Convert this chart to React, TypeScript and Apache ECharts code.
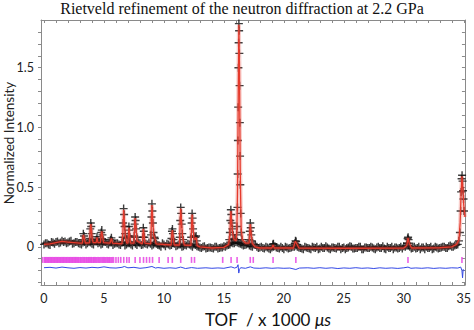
import React, { useEffect, useRef } from "react";
import * as echarts from "echarts";

// Observed background points [TOF (x1000 us), normalized intensity]
const obsBackground: number[][] = [
  [0, 0.02], [0.25, 0.03], [0.5, 0.015], [0.75, 0.035], [1, 0.04], [1.25, 0.03], [1.5, 0.05], [1.75, 0.045], [2, 0.035], [2.25, 0.05], [2.5, 0.03], [2.75, 0.04], [3, 0.025],
  [3.25, 0.035], [3.5, 0.02], [3.75, 0.04], [4, 0.025], [4.25, 0.045], [4.5, 0.03], [4.75, 0.02], [5, 0.04], [5.25, 0.025], [5.5, 0.035], [5.75, 0.015], [6, 0.03],
  [6.25, 0.02], [6.5, 0.035], [6.75, 0.01], [7, 0.03], [7.25, 0.02], [7.5, 0.04], [7.75, 0.015], [8, 0.03], [8.25, 0.02], [8.5, 0.025], [8.75, 0.035], [9, 0.01],
  [9.25, 0.03], [9.5, 0.015], [9.75, 0.0], [10, 0.02], [10.25, 0.025], [10.5, 0.01], [10.75, 0.03], [11, 0.005], [11.25, 0.02], [11.5, 0.0], [11.75, 0.015], [12, 0.025],
  [12.25, 0.01], [12.5, 0.02], [12.75, 0.005], [13, -0.005], [13.25, 0.0], [13.5, -0.015], [13.75, -0.005], [14, -0.01], [14.25, 0.0], [14.5, -0.015], [14.75, -0.005], [15, 0.005],
  [15.25, 0.01], [15.5, 0.02], [15.75, 0.03], [16, 0.04], [16.25, 0.03], [16.5, 0.02], [16.75, 0.015], [17, 0.025], [17.25, 0.005], [17.5, 0.02], [17.75, 0.0], [18, -0.005],
  [18.25, -0.01], [18.5, 0.0], [18.75, -0.015], [19, -0.005], [19.25, 0.005], [19.5, -0.01], [19.75, 0.0], [20, -0.02], [20.25, -0.005], [20.5, -0.01], [20.75, 0.0], [21, 0.01],
  [21.25, -0.005], [21.5, -0.015], [21.75, 0.0], [22, -0.01], [22.25, -0.02], [22.5, -0.005], [22.75, 0.0], [23, -0.015], [23.25, -0.01], [23.5, 0.005], [23.75, -0.015], [24, -0.005],
  [24.25, -0.01], [24.5, 0.0], [24.75, -0.02], [25, -0.005], [25.25, -0.01], [25.5, 0.005], [25.75, -0.015], [26, -0.01], [26.25, 0.0], [26.5, -0.02], [26.75, -0.005], [27, -0.01],
  [27.25, 0.0], [27.5, -0.015], [27.75, -0.005], [28, -0.01], [28.25, 0.005], [28.5, -0.02], [28.75, -0.01], [29, 0.0], [29.25, -0.005], [29.5, -0.015], [29.75, 0.0], [30, 0.005],
  [30.25, 0.01], [30.5, 0.0], [30.75, -0.01], [31, -0.015], [31.25, 0.0], [31.5, -0.005], [31.75, -0.02], [32, -0.01], [32.25, 0.0], [32.5, -0.015], [32.75, -0.005], [33, -0.01],
  [33.25, 0.0], [33.5, -0.01], [33.75, 0.005], [34, 0.0], [34.25, 0.01], [34.5, 0.02],
];

// Interleaved background points between the ones above
const obsBackgroundMid: number[][] = [
  [0.125, 0.03], [0.375, 0.02], [0.625, 0.04], [0.875, 0.025], [1.125, 0.045], [1.375, 0.035], [1.625, 0.04], [1.875, 0.03], [2.125, 0.045], [2.375, 0.025], [2.625, 0.04], [2.875, 0.03],
  [3.125, 0.02], [3.375, 0.04], [3.625, 0.03], [3.875, 0.035], [4.125, 0.02], [4.375, 0.045], [4.625, 0.035], [4.875, 0.025], [5.125, 0.04], [5.375, 0.02], [5.625, 0.035], [5.875, 0.025],
  [6.125, 0.03], [6.375, 0.015], [6.625, 0.04], [6.875, 0.02], [7.125, 0.03], [7.375, 0.01], [7.625, 0.025], [7.875, 0.035], [8.125, 0.015], [8.375, 0.03], [8.625, 0.02], [8.875, 0.025],
  [9.125, 0.02], [9.375, 0.025], [9.625, 0.01], [9.875, 0.03], [10.125, 0.005], [10.375, 0.02], [10.625, 0.015], [10.875, 0.025], [11.125, 0.01], [11.375, 0.02], [11.625, 0.005], [11.875, 0.01],
  [12.125, 0.02], [12.375, 0.0], [12.625, 0.015], [12.875, 0.0], [13.125, -0.01], [13.375, 0.005], [13.625, -0.01], [13.875, -0.005], [14.125, -0.015], [14.375, 0.0], [14.625, -0.01], [14.875, -0.005],
  [15.125, 0.0], [15.375, 0.015], [15.625, 0.035], [15.875, 0.03], [16.125, 0.035], [16.375, 0.025], [16.625, 0.01], [16.875, 0.02], [17.125, 0.01], [17.375, 0.0], [17.625, 0.015], [17.875, -0.01],
  [18.125, 0.0], [18.375, -0.015], [18.625, -0.005], [18.875, -0.02], [19.125, 0.0], [19.375, -0.005], [19.625, -0.015], [19.875, -0.01], [20.125, 0.0], [20.375, -0.015], [20.625, -0.005], [20.875, 0.0],
  [21.125, 0.0], [21.375, -0.01], [21.625, -0.02], [21.875, -0.005], [22.125, -0.015], [22.375, 0.0], [22.625, -0.01], [22.875, -0.02], [23.125, 0.0], [23.375, -0.01], [23.625, -0.005], [23.875, -0.02],
  [24.125, -0.005], [24.375, -0.015], [24.625, 0.0], [24.875, -0.01], [25.125, -0.02], [25.375, -0.005], [25.625, 0.0], [25.875, -0.015], [26.125, -0.01], [26.375, 0.0], [26.625, -0.02], [26.875, -0.005],
  [27.125, -0.01], [27.375, -0.005], [27.625, -0.02], [27.875, 0.0], [28.125, -0.01], [28.375, -0.015], [28.625, 0.0], [28.875, -0.01], [29.125, -0.02], [29.375, -0.005], [29.625, -0.01], [29.875, -0.015],
  [30.125, 0.0], [30.375, 0.01], [30.625, -0.015], [30.875, 0.0], [31.125, -0.01], [31.375, -0.02], [31.625, -0.005], [31.875, 0.0], [32.125, -0.01], [32.375, -0.02], [32.625, 0.0], [32.875, -0.015],
  [33.125, -0.005], [33.375, 0.0], [33.625, -0.01], [33.875, 0.01], [34.125, 0.0], [34.375, 0.015],
];

// Observed points across the Bragg peaks
const obsPeaks: number[][] = [
  [3.22, 0.06], [3.28, 0.11], [3.34, 0.09], [3.4, 0.05],
  [3.82, 0.07], [3.86, 0.15], [3.9, 0.2], [3.94, 0.17], [3.98, 0.11], [4.04, 0.06],
  [4.36, 0.06], [4.42, 0.085], [4.48, 0.055],
  [4.72, 0.07], [4.77, 0.12], [4.82, 0.14], [4.87, 0.1], [4.93, 0.06],
  [5.55, 0.06], [5.62, 0.075], [5.68, 0.05],
  [6.56, 0.08], [6.6, 0.2], [6.64, 0.32], [6.68, 0.27], [6.72, 0.17], [6.77, 0.11], [6.83, 0.07],
  [7.04, 0.09], [7.08, 0.17], [7.12, 0.14], [7.17, 0.08],
  [7.52, 0.09], [7.56, 0.19], [7.6, 0.25], [7.64, 0.22], [7.68, 0.15], [7.74, 0.08],
  [8.24, 0.08], [8.28, 0.16], [8.32, 0.13], [8.37, 0.08],
  [8.92, 0.1], [8.96, 0.25], [9.0, 0.36], [9.04, 0.3], [9.08, 0.2], [9.13, 0.12], [9.2, 0.08], [9.25, 0.07],
  [10.63, 0.07], [10.67, 0.13], [10.71, 0.15], [10.75, 0.11], [10.8, 0.06],
  [11.32, 0.08], [11.36, 0.22], [11.4, 0.33], [11.44, 0.28], [11.48, 0.19], [11.53, 0.11], [11.6, 0.06],
  [12.27, 0.08], [12.31, 0.2], [12.35, 0.28], [12.39, 0.24], [12.43, 0.15], [12.5, 0.09], [12.62, 0.08], [12.68, 0.09], [12.74, 0.05],
  [15.45, 0.06], [15.5, 0.12], [15.54, 0.22], [15.58, 0.31], [15.62, 0.27], [15.66, 0.2], [15.7, 0.15], [15.76, 0.1], [15.85, 0.07], [15.95, 0.06],
  [16.06, 0.1], [16.1, 0.17], [16.13, 0.33], [16.15, 0.61], [16.17, 0.89], [16.19, 1.17], [16.21, 1.5], [16.23, 1.71], [16.25, 1.87],
  [16.27, 1.81], [16.29, 1.62], [16.31, 1.35], [16.33, 1.04], [16.35, 0.76], [16.37, 0.52], [16.4, 0.28], [16.44, 0.12], [16.5, 0.06],
  [17.12, 0.06], [17.16, 0.13], [17.2, 0.2], [17.24, 0.16], [17.28, 0.1], [17.34, 0.05],
  [19.08, 0.02], [19.13, 0.025],
  [20.92, 0.03], [20.97, 0.05], [21.02, 0.045], [21.08, 0.02],
  [30.27, 0.03], [30.32, 0.07], [30.36, 0.08], [30.4, 0.06], [30.46, 0.03],
  [34.6, 0.05], [34.68, 0.12], [34.74, 0.3], [34.78, 0.46], [34.82, 0.57], [34.86, 0.6], [34.9, 0.55], [34.94, 0.47], [34.98, 0.4], [35.02, 0.3],
];

// Calculated profile
const calcProfile: number[][] = [
  [0, 0.02], [0.5, 0.025], [1, 0.035], [1.5, 0.045], [2, 0.04], [2.5, 0.035], [3, 0.03], [3.2, 0.03], [3.28, 0.1], [3.36, 0.07], [3.45, 0.032],
  [3.8, 0.033], [3.86, 0.14], [3.9, 0.19], [3.95, 0.15], [4.0, 0.08], [4.1, 0.035], [4.35, 0.035], [4.42, 0.08], [4.5, 0.035],
  [4.7, 0.035], [4.77, 0.11], [4.82, 0.13], [4.88, 0.09], [4.96, 0.035], [5.5, 0.03], [5.62, 0.07], [5.72, 0.03],
  [6.5, 0.025], [6.58, 0.12], [6.64, 0.31], [6.7, 0.22], [6.78, 0.09], [6.9, 0.03], [7.0, 0.03], [7.08, 0.16], [7.14, 0.1], [7.22, 0.03],
  [7.5, 0.03], [7.56, 0.18], [7.6, 0.24], [7.66, 0.17], [7.75, 0.05], [8.2, 0.025], [8.28, 0.15], [8.34, 0.1], [8.42, 0.03],
  [8.9, 0.025], [8.96, 0.24], [9.0, 0.35], [9.06, 0.24], [9.14, 0.1], [9.25, 0.07], [9.35, 0.025],
  [10.6, 0.015], [10.67, 0.12], [10.71, 0.14], [10.77, 0.08], [10.86, 0.015], [11.3, 0.015], [11.36, 0.21], [11.4, 0.32], [11.46, 0.22], [11.55, 0.08], [11.7, 0.015],
  [12.25, 0.012], [12.31, 0.19], [12.35, 0.27], [12.41, 0.18], [12.5, 0.07], [12.6, 0.06], [12.68, 0.08], [12.78, 0.01],
  [13, 0.0], [14, -0.01], [15, -0.005], [15.4, 0.02], [15.5, 0.1], [15.58, 0.3], [15.64, 0.22], [15.72, 0.12], [15.85, 0.06],
  [16.0, 0.05], [16.08, 0.12], [16.14, 0.5], [16.2, 1.3], [16.25, 1.86], [16.3, 1.5], [16.36, 0.65], [16.44, 0.15], [16.55, 0.06],
  [16.8, 0.03], [17.1, 0.03], [17.16, 0.12], [17.2, 0.19], [17.26, 0.12], [17.36, 0.03], [17.6, 0.0], [18, -0.01],
  [19.0, -0.01], [19.1, 0.015], [19.2, -0.01], [20.8, -0.01], [20.95, 0.045], [21.05, 0.03], [21.25, -0.01],
  [25, -0.012], [30, -0.01], [30.25, 0.01], [30.35, 0.075], [30.45, 0.03], [30.65, -0.01],
  [33, -0.008], [34, 0.0], [34.4, 0.02], [34.6, 0.06], [34.7, 0.2], [34.78, 0.45], [34.85, 0.59], [34.92, 0.5], [35.0, 0.35], [35.1, 0.25],
];

// Difference curve (observed - calculated), shifted below the pattern
const diffCurve: number[][] = [
  [0, -0.175], [0.5, -0.172], [1, -0.178], [1.5, -0.17], [2, -0.176], [2.5, -0.18], [3, -0.174], [3.5, -0.178], [4, -0.172], [4.5, -0.176],
  [5, -0.168], [5.5, -0.176], [6, -0.178], [6.5, -0.172], [6.7, -0.165], [7, -0.176], [7.5, -0.172], [8, -0.18], [8.5, -0.175], [9, -0.165],
  [9.3, -0.178], [9.5, -0.174], [10, -0.18], [10.5, -0.176], [11, -0.18], [11.4, -0.17], [11.8, -0.182], [12.3, -0.174], [12.8, -0.18],
  [13.5, -0.176], [14, -0.18], [14.5, -0.177], [15, -0.18], [15.6, -0.168], [15.9, -0.178], [16.1, -0.17], [16.18, -0.15], [16.24, -0.22],
  [16.3, -0.19], [16.4, -0.175], [16.8, -0.18], [17.2, -0.168], [17.5, -0.178], [18, -0.18], [18.5, -0.176], [19, -0.18], [19.5, -0.177],
  [20, -0.18], [20.5, -0.178], [21, -0.19], [21.3, -0.178], [22, -0.176], [22.5, -0.18], [23, -0.175], [23.5, -0.18], [24, -0.176],
  [24.5, -0.182], [25, -0.177], [25.5, -0.18], [26, -0.175], [26.5, -0.18], [27, -0.177], [27.5, -0.182], [28, -0.176], [28.5, -0.18],
  [29, -0.177], [29.5, -0.181], [30, -0.176], [30.35, -0.17], [30.6, -0.18], [31, -0.177], [31.5, -0.18], [32, -0.176], [32.5, -0.181],
  [33, -0.177], [33.5, -0.18], [34, -0.176], [34.5, -0.178], [34.75, -0.17], [34.85, -0.2], [34.9, -0.26], [34.95, -0.19], [35.05, -0.2],
];

// Reflection positions
const reflections: number[] = [
  -0.1, 0.05, 0.1, 0.15, 0.22, 0.3, 0.35, 0.4, 0.48, 0.55, 0.6, 0.65, 0.72, 0.8, 0.85, 0.9, 0.98, 1.05, 1.1, 1.15, 1.22, 1.3, 1.35, 1.4,
  1.48, 1.56, 1.6, 1.65, 1.72, 1.8, 1.85, 1.9, 1.97, 2.05, 2.1, 2.15, 2.22, 2.3, 2.35, 2.4, 2.48, 2.56, 2.6, 2.65, 2.72, 2.8, 2.85,
  2.9, 3.0, 3.05, 3.1, 3.2, 3.28, 3.35, 3.4, 3.5, 3.55, 3.6, 3.7, 3.75, 3.8, 3.9, 3.95, 4.0, 4.1, 4.15, 4.2, 4.3, 4.35, 4.45, 4.55,
  4.6, 4.7, 4.8, 4.9, 4.95, 5.05, 5.1, 5.2, 5.3, 5.35, 5.45, 5.5, 5.6, 5.7, 5.8, 6.0, 6.2, 6.4, 6.65, 6.9, 7.1, 7.6, 8.0, 8.3, 8.55,
  8.8, 9.05, 9.6, 10.35, 10.7, 11.4, 12.3, 12.55, 14.9, 15.6, 16.1, 17.2, 17.45, 19.1, 21.0, 30.35, 34.85,
];
const reflectionLevel = -0.11;

const xLabelValues = [0, 5, 10, 15, 20, 25, 30, 35];
const xTickValues = [0, 1, 2, 3, 4, 5, 6, 7, 8, 9, 10, 11, 12, 13, 14, 15, 16, 17, 18, 19, 20, 21, 22, 23, 24, 25, 26, 27, 28, 29, 30, 31, 32, 33, 34, 35];
const yLabelValues = [0, 0.5, 1.0, 1.5];
const yTickValues = [-0.3, -0.2, -0.1, 0, 0.1, 0.2, 0.3, 0.4, 0.5, 0.6, 0.7, 0.8, 0.9, 1.0, 1.1, 1.2, 1.3, 1.4, 1.5, 1.6, 1.7, 1.8];

// Plus-shaped marker for observed points
const CROSS = "path://M0,3.3H8V4.7H0Z M3.3,0H4.7V8H3.3Z";
const SANS = "Lato, 'Open Sans', sans-serif";
const AXIS_COLOR = "#8a8a8a";

export default function App() {
  const ref = useRef<HTMLDivElement>(null);

  useEffect(() => {
    if (!ref.current) return;
    const chart = echarts.init(ref.current, undefined, { renderer: "svg" });

    const frameAxis = {
      axisLine: { show: true, onZero: false, lineStyle: { color: AXIS_COLOR, width: 1 } },
      splitLine: { show: false },
    };

    chart.setOption({
      animation: false,
      backgroundColor: "#ffffff",
      grid: { left: 41, right: 8, top: 20, bottom: 45, containLabel: false },
      xAxis: [
        {
          type: "value", min: -0.25, max: 35.1, position: "bottom", ...frameAxis,
          axisTick: { show: true, inside: true, length: 3, customValues: xTickValues, lineStyle: { color: AXIS_COLOR } },
          axisLabel: { show: true, customValues: xLabelValues, color: "#222", fontFamily: SANS, fontSize: 12.5, margin: 7 },
        },
        {
          type: "value", min: -0.25, max: 35.1, position: "top", ...frameAxis,
          axisTick: { show: true, inside: true, length: 3, customValues: xTickValues, lineStyle: { color: AXIS_COLOR } },
          axisLabel: { show: false },
        },
      ],
      yAxis: [
        {
          type: "value", min: -0.32, max: 1.9, position: "left", ...frameAxis,
          axisTick: { show: true, inside: false, length: 3, customValues: yTickValues, lineStyle: { color: AXIS_COLOR } },
          axisLabel: {
            show: true, customValues: yLabelValues, color: "#222", fontFamily: SANS, fontSize: 12.5, margin: 7,
            formatter: (v: number) => (v === 0 ? "0" : v.toFixed(1)),
          },
        },
        {
          type: "value", min: -0.32, max: 1.9, position: "right", ...frameAxis,
          axisTick: { show: true, inside: true, length: 3, customValues: yTickValues, lineStyle: { color: AXIS_COLOR } },
          axisLabel: { show: false },
        },
      ],
      graphic: [
        {
          type: "text", x: 242, y: 8,
          style: {
            text: "Rietveld refinement of the neutron diffraction at 2.2 GPa",
            font: "16px 'Liberation Serif', 'DejaVu Serif', serif",
            fill: "#111", textAlign: "center", textVerticalAlign: "middle",
          },
        },
        {
          type: "text", x: 268, y: 319,
          style: {
            text: "TOF  / x 1000 {i|μs}",
            font: `17px ${SANS}`,
            fill: "#111", textAlign: "center", textVerticalAlign: "middle",
            rich: { i: { fontStyle: "italic", fontSize: 17, fontFamily: SANS, fill: "#111" } },
          },
        },
        {
          type: "text", x: 9, y: 143, rotation: Math.PI / 2,
          style: {
            text: "Normalized Intensity",
            font: `13.5px ${SANS}`,
            fill: "#222", textAlign: "center", textVerticalAlign: "middle",
          },
        },
      ],
      series: [
        {
          name: "Reflections", type: "scatter", xAxisIndex: 0, yAxisIndex: 0,
          symbol: "rect", symbolSize: [1.6, 6],
          itemStyle: { color: "#e84fe4", opacity: 0.9 },
          data: reflections.map((x) => [x, reflectionLevel]),
          z: 2, silent: true,
        },
        {
          name: "Difference", type: "line", xAxisIndex: 0, yAxisIndex: 0,
          showSymbol: false, symbol: "none",
          lineStyle: { color: "#3348e6", width: 1 },
          data: diffCurve, z: 2, silent: true,
        },
        {
          name: "Observed", type: "scatter", xAxisIndex: 0, yAxisIndex: 0,
          symbol: CROSS, symbolSize: [8, 8],
          itemStyle: { color: "#0d0d0d" },
          data: [...obsBackground, ...obsBackgroundMid, ...obsPeaks],
          z: 3, silent: true,
        },
        {
          name: "Calculated glow", type: "line", xAxisIndex: 0, yAxisIndex: 0,
          showSymbol: false, symbol: "none",
          lineStyle: { color: "rgba(235,80,70,0.28)", width: 4 },
          data: calcProfile, z: 4, silent: true,
        },
        {
          name: "Calculated", type: "line", xAxisIndex: 0, yAxisIndex: 0,
          showSymbol: false, symbol: "none",
          lineStyle: { color: "#e53a2c", width: 1.3 },
          data: calcProfile, z: 5, silent: true,
        },
      ],
    });

    return () => chart.dispose();
  }, []);

  return <div ref={ref} style={{ width: 474, height: 330, position: "absolute", left: 0, top: 0 }} />;
}
